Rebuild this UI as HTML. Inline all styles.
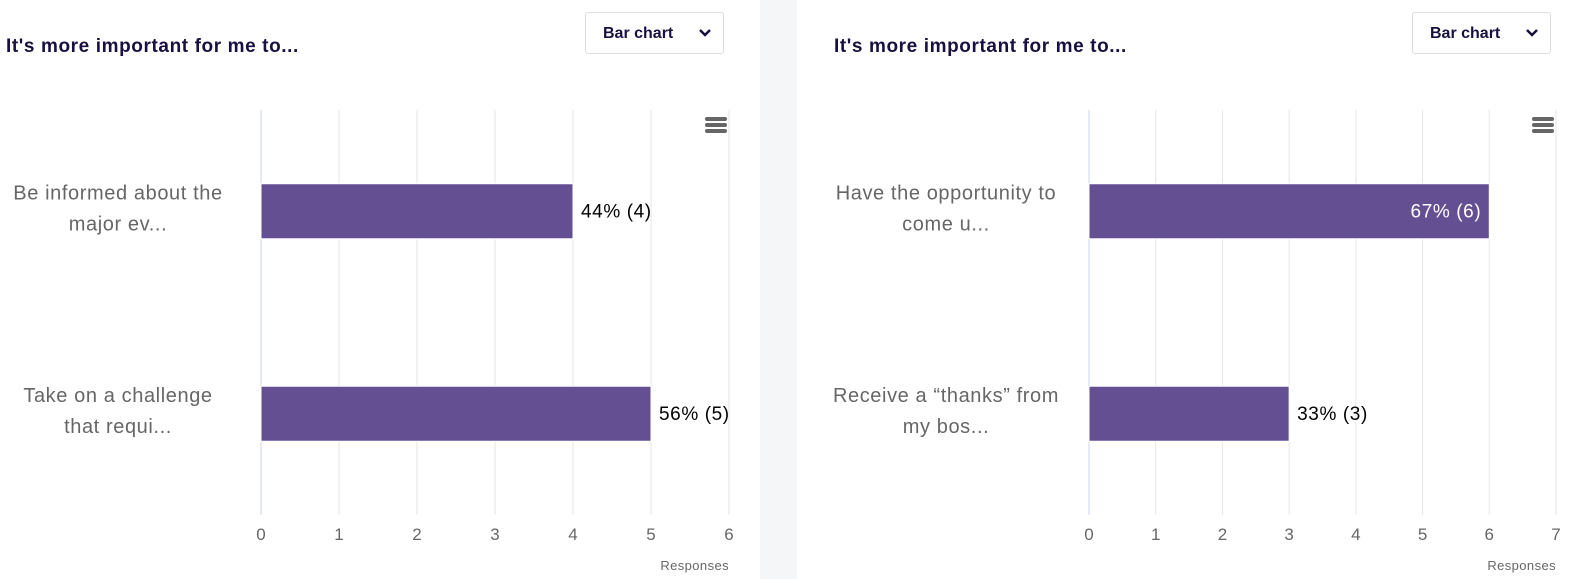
<!DOCTYPE html>
<html><head><meta charset="utf-8"><style>
body{margin:0;width:1571px;height:579px;background:#fff;font-family:"Liberation Sans",sans-serif;position:relative;overflow:hidden}
.gap{position:absolute;left:760px;top:0;width:37px;height:579px;background:#f5f6f8}
.title{position:absolute;top:36px;font-size:19px;font-weight:bold;color:#1a1040;letter-spacing:0.6px}
.dd{position:absolute;top:12px;width:139px;height:42px;border:1px solid #dcdde3;border-radius:3px;box-sizing:border-box;font-size:16px;font-weight:bold;color:#1a1040}
.dd span{position:absolute;left:17px;top:12px}
.dd svg{position:absolute;right:12px;top:16px}
svg.chart{position:absolute;top:0;left:0}
</style></head><body>
<div class="gap"></div>
<div class="title" style="left:6px">It's more important for me to...</div>
<div class="title" style="left:834px">It's more important for me to...</div>
<div class="dd" style="left:585px"><span>Bar chart</span><svg width="12" height="9"><path d="M1 1 L6 6 L11 1" stroke="#1a1040" stroke-width="2.5" fill="none"/></svg></div>
<div class="dd" style="left:1412px"><span>Bar chart</span><svg width="12" height="9"><path d="M1 1 L6 6 L11 1" stroke="#1a1040" stroke-width="2.5" fill="none"/></svg></div>
<svg class="chart" id="svg" width="1571" height="579"></svg>
<script>
const leftCategories=[["Be informed about the","major ev..."],["Take on a challenge","that requi..."]];
const leftValues=[4,5];
const leftLabels=["44% (4)","56% (5)"];
const leftTicks=[0,1,2,3,4,5,6];
const rightCategories=[["Have the opportunity to","come u..."],["Receive a \u201cthanks\u201d from","my bos..."]];
const rightValues=[6,3];
const rightLabels=["67% (6)","33% (3)"];
const rightTicks=[0,1,2,3,4,5,6,7];
const NS="http://www.w3.org/2000/svg";
const svg=document.getElementById('svg');
function mk(tag,attrs){const e=document.createElementNS(NS,tag);for(const k in attrs)e.setAttribute(k,attrs[k]);svg.appendChild(e);return e;}
function draw(prefix,x0,x1,cats,vals,labels,ticks){
  const max=ticks[ticks.length-1];
  const sx=v=>x0+(x1-x0)*v/max;
  const top=110,bot=515,bandH=(bot-top)/cats.length,barH=55;
  ticks.forEach(t=>{
    const l=mk('line',{x1:sx(t),x2:sx(t),y1:top,y2:bot,stroke:t===0?'#ccd6eb':'#e6e6e6','stroke-width':1});
    
    
    const tx=mk('text',{x:sx(t),y:540,'text-anchor':'middle','font-size':17,fill:'#666'});
    tx.textContent=t;
    
    
  });
  const at=mk('text',{x:x1,y:570,'text-anchor':'end','font-size':13,fill:'#666','letter-spacing':0.4});
  at.textContent='Responses';
  
  
  cats.forEach((c,i)=>{
    const cy=top+bandH*(i+0.5);
    const r=mk('rect',{x:sx(0),y:cy-barH/2,width:sx(vals[i])-sx(0),height:barH,fill:'#654f93',stroke:'#fff','stroke-width':1});
    
    
    c.forEach((line,j)=>{
      const t=mk('text',{x:x0-143,y:cy-12+j*31,'text-anchor':'middle','font-size':20,fill:'#666','letter-spacing':0.6});
      t.textContent=line;
      
      
    });
    const inside=vals[i]===max-1&&prefix==='right';
    const lx=inside?sx(vals[i])-8:sx(vals[i])+8;
    const lt=mk('text',{x:lx,y:cy+6,'text-anchor':inside?'end':'start','font-size':19,fill:inside?'#fff':'#000','letter-spacing':0.6});
    lt.textContent=labels[i];
    
    
  });
  [0,6,12].forEach(dy=>{
    const m=mk('rect',{x:x1-24,y:117+dy,width:22,height:4,rx:2,fill:'#666'});
    
    
  });
}
draw('left',261,729,leftCategories,leftValues,leftLabels,leftTicks);
draw('right',1089,1556,rightCategories,rightValues,rightLabels,rightTicks);
</script>
</body></html>
